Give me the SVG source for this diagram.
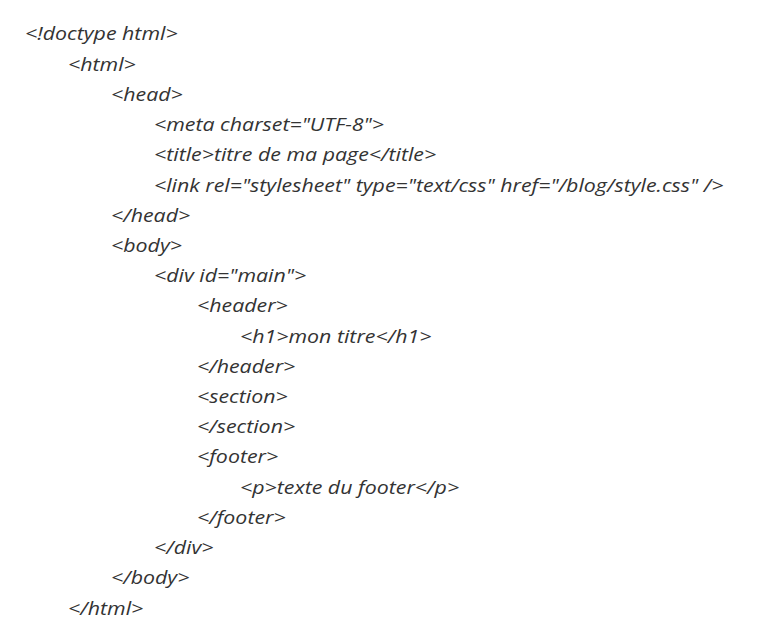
<svg xmlns="http://www.w3.org/2000/svg" width="768" height="638" viewBox="0 0 768 638">
<style>
text{font-family:"Open Sans",sans-serif;font-style:italic;font-size:18.5px;fill:#333}
</style>
<rect width="768" height="638" fill="#fff"/>
<g id="code" transform="scale(1.155,1)">
<text x="21.65" y="40.5">&lt;!doctype html&gt;</text>
<text x="58.87" y="70.7">&lt;html&gt;</text>
<text x="96.1" y="100.9">&lt;head&gt;</text>
<text x="133.33" y="131.1">&lt;meta charset="UTF-8"&gt;</text>
<text x="133.33" y="161.3">&lt;title&gt;titre de ma page&lt;/title&gt;</text>
<text x="133.33" y="191.6">&lt;link rel="stylesheet" type="text/css" href="/blog/style.css" /&gt;</text>
<text x="96.1" y="221.8">&lt;/head&gt;</text>
<text x="96.1" y="252">&lt;body&gt;</text>
<text x="133.33" y="282.2">&lt;div id="main"&gt;</text>
<text x="170.56" y="312.4">&lt;header&gt;</text>
<text x="207.79" y="342.6">&lt;h1&gt;mon titre&lt;/h1&gt;</text>
<text x="170.56" y="372.9">&lt;/header&gt;</text>
<text x="170.56" y="403.1">&lt;section&gt;</text>
<text x="170.56" y="433.3">&lt;/section&gt;</text>
<text x="170.56" y="463.5">&lt;footer&gt;</text>
<text x="207.79" y="493.7">&lt;p&gt;texte du footer&lt;/p&gt;</text>
<text x="170.56" y="524">&lt;/footer&gt;</text>
<text x="133.33" y="554.2">&lt;/div&gt;</text>
<text x="96.1" y="584.4">&lt;/body&gt;</text>
<text x="58.87" y="614.6">&lt;/html&gt;</text>
</g>
</svg>
